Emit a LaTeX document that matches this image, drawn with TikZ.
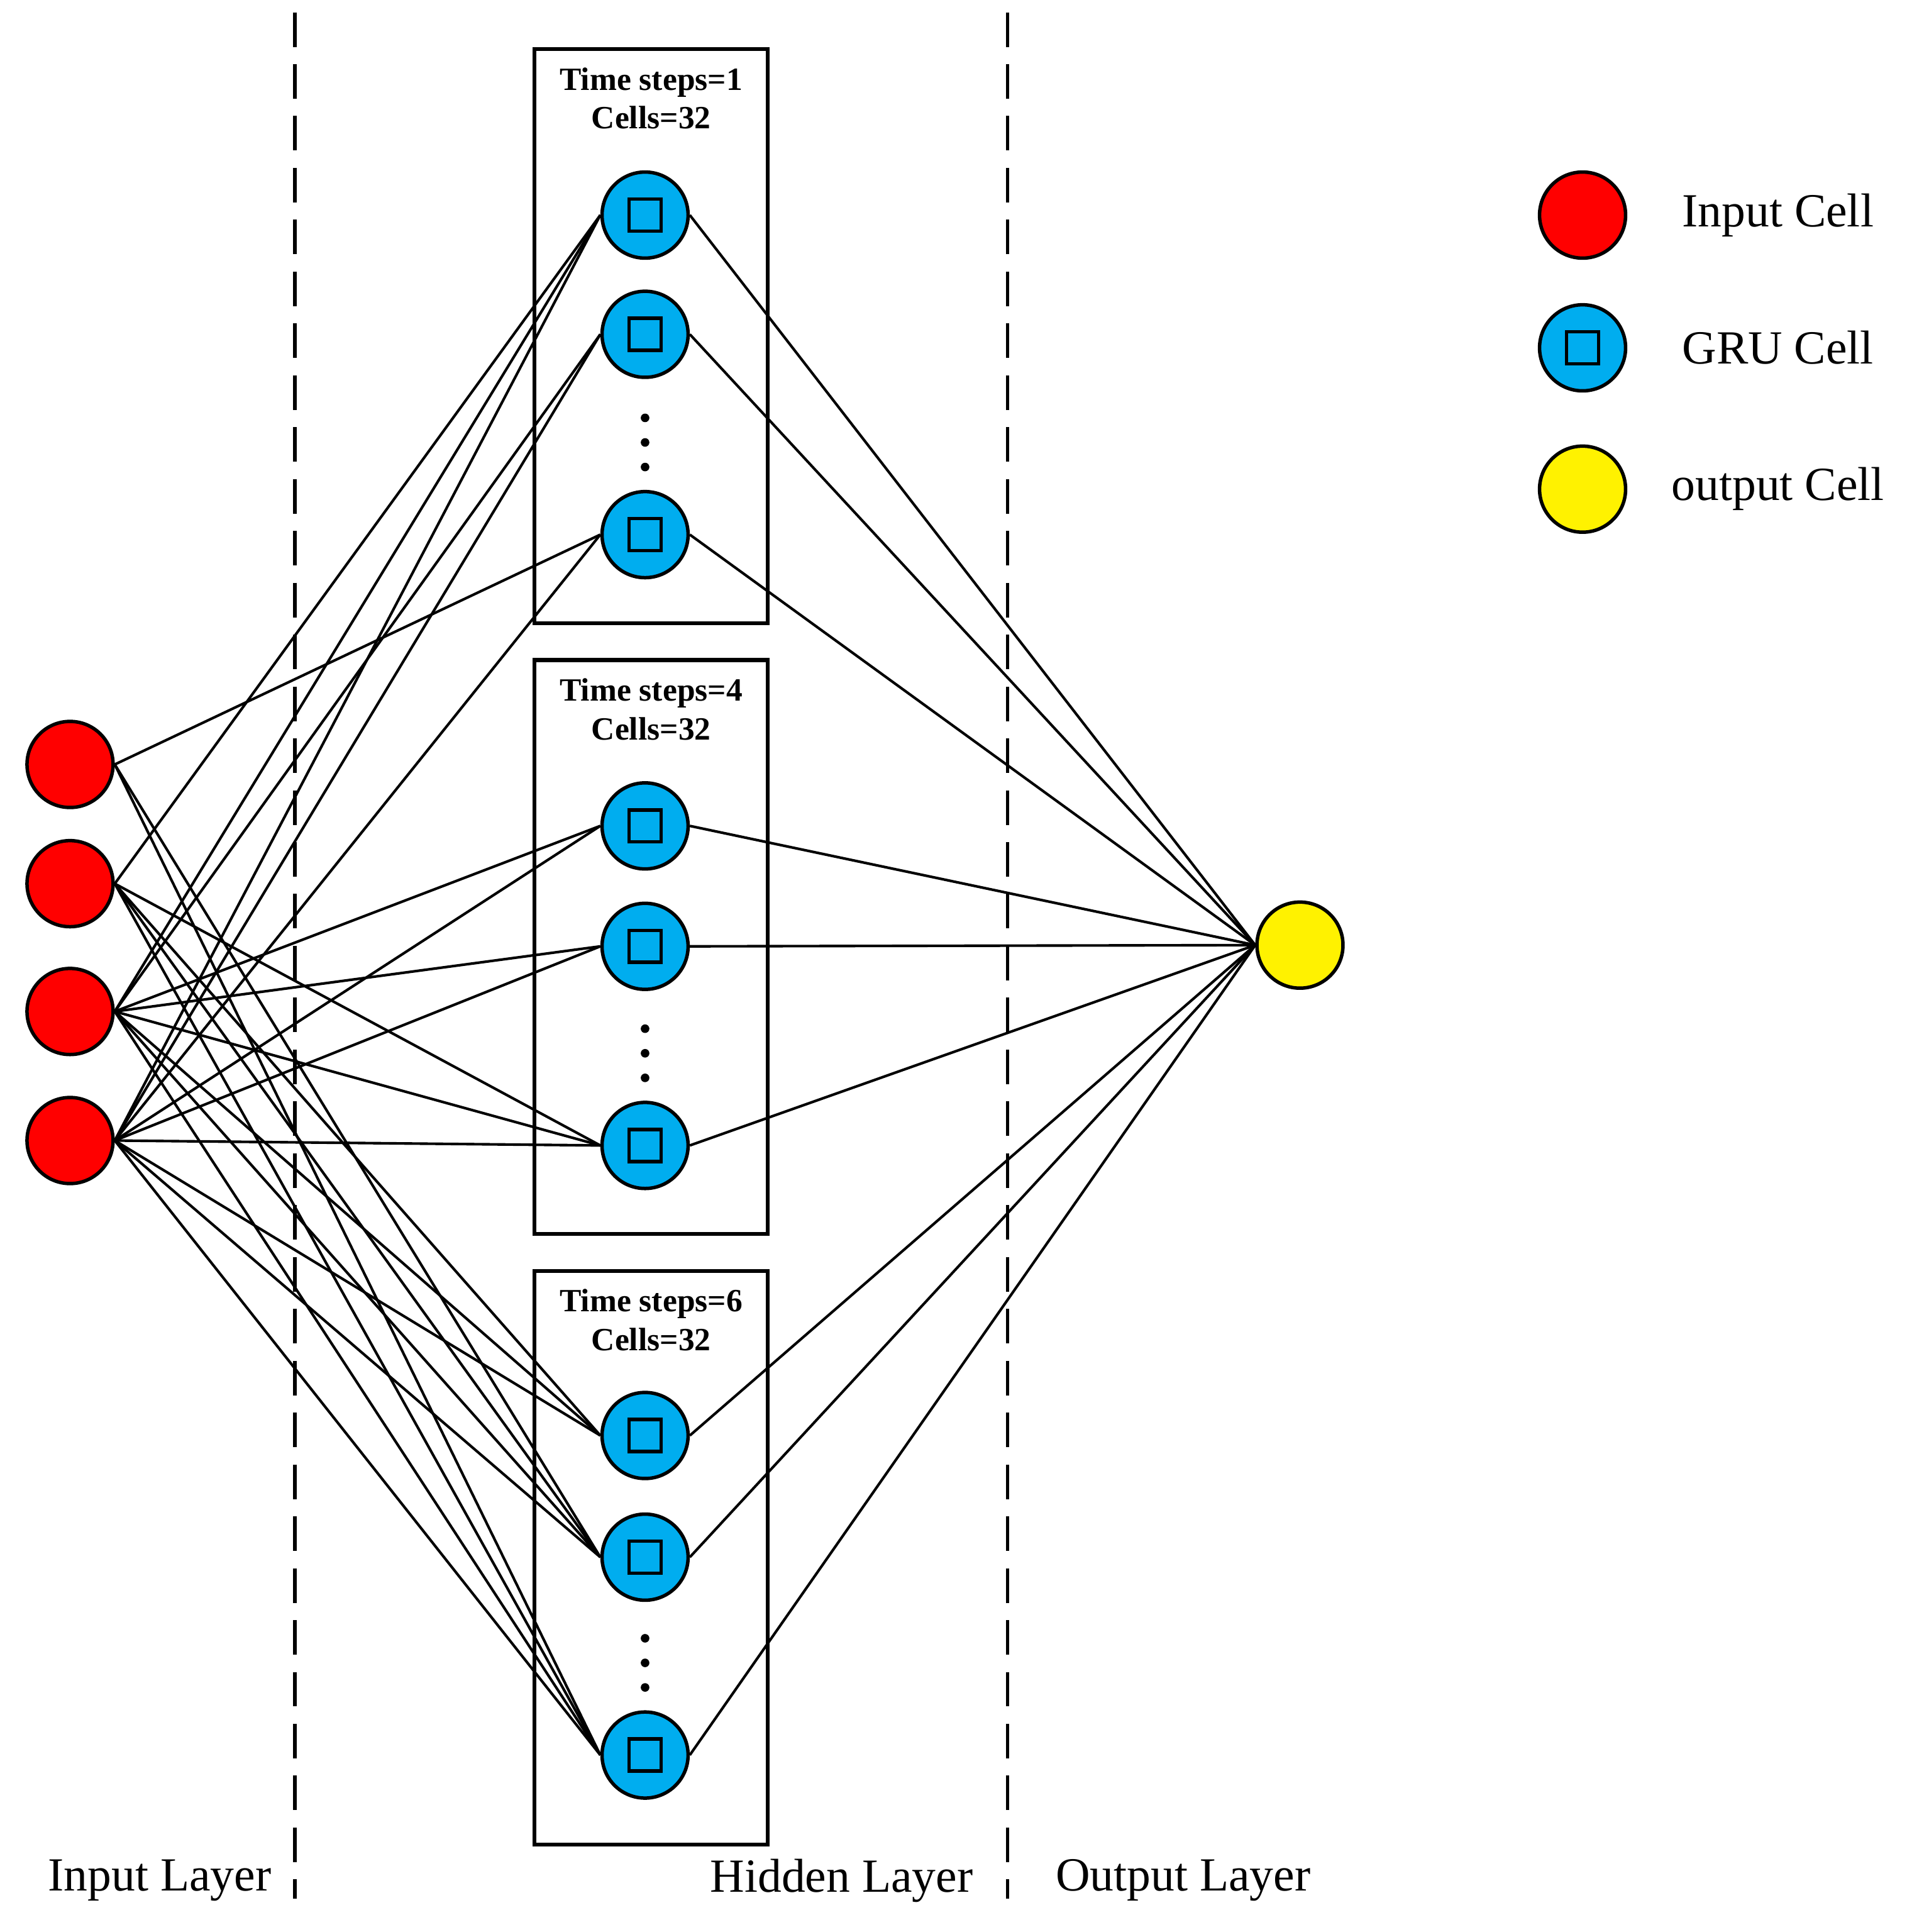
\documentclass[tikz,border=0pt]{standalone}
\usepackage{fontspec}
\setmainfont{Liberation Serif}
\begin{document}
\begin{tikzpicture}[x=0.01cm,y=-0.01cm,
  inp/.style={circle,draw,line width=0.8pt,fill=red,minimum size=0.7cm,inner sep=0pt},
  outc/.style={circle,draw,line width=0.8pt,fill=yellow,minimum size=0.7cm,inner sep=0pt},
  gru/.style={circle,draw,line width=0.8pt,fill=cyan,minimum size=0.7cm,inner sep=0pt,
    path picture={\draw[line width=0.8pt] (path picture bounding box.center) ++(-0.13cm,-0.13cm) rectangle ++(0.26cm,0.26cm);}},
  box/.style={draw,line width=0.9pt},
  ttl/.style={font=\bfseries\fontsize{7.5}{9}\selectfont,align=center},
  lab/.style={font=\fontsize{11}{13}\selectfont},
  sep/.style={line width=0.8pt,dash pattern=on 8pt off 4pt},
  e/.style={line width=0.6pt}]
\useasboundingbox (0,0) rectangle (1552,1572);
\draw[sep] (240,10) -- (240,1545);
\draw[sep] (820,10) -- (820,1545);
\foreach \n/\t/\b in {1/40/507,2/537/1004,3/1034/1501}{
  \draw[box] (435,\t) rectangle (625,\b);
}
\node[ttl] (t1) at (530,80) {Time steps=1\\Cells=32};
\node[ttl] (t2) at (530,577) {Time steps=4\\Cells=32};
\node[ttl] (t3) at (530,1074) {Time steps=6\\Cells=32};
\foreach \i/\y in {1/622,2/719,3/823,4/928}{\node[inp] (i\i) at (57,\y) {};}
\node[gru] (a1) at (525,175) {}; \node[gru] (a2) at (525,272) {}; \node[gru] (a3) at (525,435) {};
\node[gru] (b1) at (525,672) {}; \node[gru] (b2) at (525,770) {}; \node[gru] (b3) at (525,932) {};
\node[gru] (c1) at (525,1168) {}; \node[gru] (c2) at (525,1267) {}; \node[gru] (c3) at (525,1428) {};
\foreach \y in {340,360,380,837,857,877,1333,1353,1373}{\fill (525,\y) circle (3.5);}
\node[outc] (o) at (1058,769) {};
\foreach \s/\t in {i1/a3,i1/c2,i1/c3,i2/a1,i2/b3,i2/c1,i2/c2,i2/c3,
  i3/a1,i3/a2,i3/b1,i3/b2,i3/b3,i3/c1,i3/c2,i3/c3,
  i4/a1,i4/a2,i4/a3,i4/b1,i4/b2,i4/b3,i4/c1,i4/c2,i4/c3}{
  \draw[e] (\s.east) -- (\t.west);}
\foreach \s in {a1,a2,a3,b1,b2,b3,c1,c2,c3}{\draw[e] (\s.east) -- (o.west);}
\node[inp] (l1) at (1288,175) {};
\node[gru] (l2) at (1288,283) {};
\node[outc] (l3) at (1288,398) {};
\node[lab] (lt1) at (1447,175) {Input Cell};
\node[lab] (lt2) at (1447,283) {GRU Cell};
\node[lab] (lt3) at (1447,398) {output Cell};
\node[lab] (x1) at (130,1530) {Input Layer};
\node[lab] (x2) at (685,1530) {Hidden Layer};
\node[lab] (x3) at (963,1530) {Output Layer};
\end{tikzpicture}
\end{document}
